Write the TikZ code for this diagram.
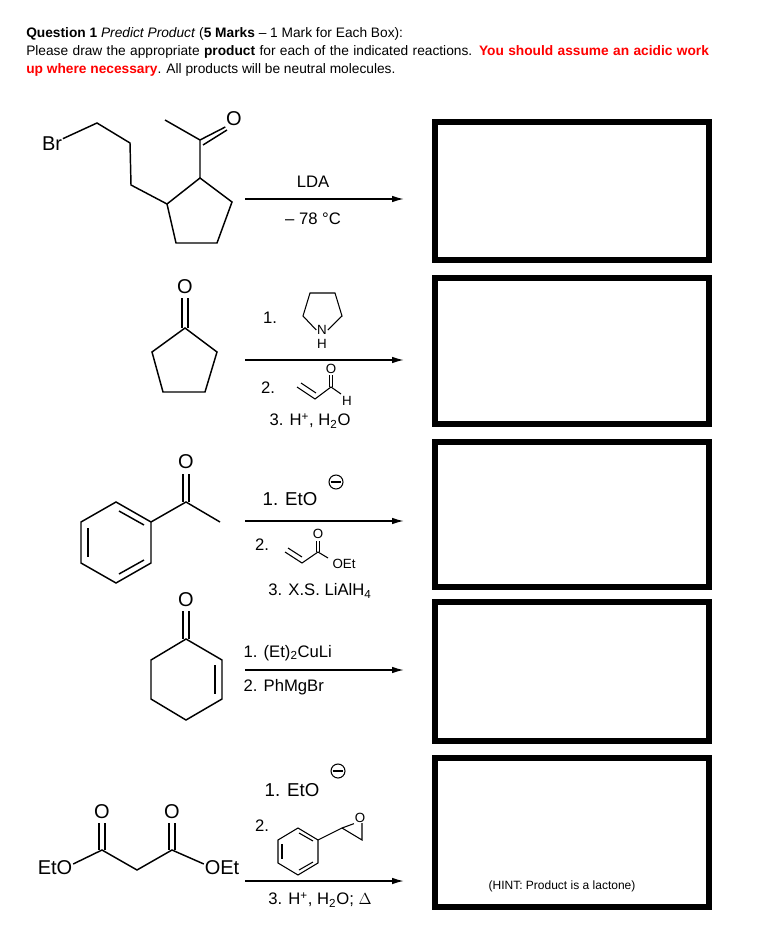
\documentclass[tikz,border=0pt]{standalone}
\usepackage{fontspec}
\setmainfont{Liberation Sans}
\usetikzlibrary{arrows.meta}
\begin{document}
\begin{tikzpicture}[x=0.75pt,y=-0.75pt,
  bd/.style={line width=1.1pt,line join=miter},
  atm/.style={inner sep=0.5pt,font=\fontsize{15}{15}\selectfont},
  rg/.style={inner sep=1pt,font=\fontsize{12.5}{14}\selectfont},
  sm/.style={inner sep=0.5pt,font=\fontsize{10}{10}\selectfont},
  arr/.style={line width=1.2pt,-{Latex[length=9pt,width=5pt]}},
  box/.style={draw,line width=4.5pt,minimum width=206pt},
  minus/.style={circle,draw,line width=0.8pt,minimum size=10.5pt,inner sep=0}]
\useasboundingbox (0,0) rectangle (756,948);
% header
\node[anchor=north west,inner sep=0,text width=512pt,align=justify,font=\fontsize{10.3}{13.5}\selectfont] (hdr) at (26,27)
 {\textbf{Question 1} \textit{Predict Product} (\textbf{5 Marks} -- 1 Mark for Each Box):\\
 Please draw the appropriate \textbf{product} for each of the indicated reactions. \textcolor{red}{\textbf{You should assume an acidic work up where necessary}}. All products will be neutral molecules.};
% boxes
\node[box,minimum height=103.5pt] (b1) at (572,191) {};
\node[box,minimum height=108.75pt] (b2) at (572,351) {};
\node[box,minimum height=108.75pt] (b3) at (572,514) {};
\node[box,minimum height=104.25pt] (b4) at (572,671) {};
\node[box,minimum height=111.75pt] (b5) at (572,832) {};
\node[sm,font=\fontsize{9}{9}\selectfont] (hint) at (562,886) {(HINT: Product is a lactone)};

% ---- molecule 1
\node[atm] (br) at (52,144) {Br};
\node[atm] (o1) at (234,119) {O};
\draw[bd] ([yshift=4pt]br.east) -- (97,123) -- (130,143) -- (131,185) -- (167,204);
\draw[bd] (167,204) -- (200,178) -- (232,202) -- (217,243) -- (176,243) -- cycle;
\draw[bd] (200,178) -- (200,140) -- (165,120);
\draw[bd] (200,140) -- (o1.south west);
\draw[bd] (203,145) -- (227,130);
\coordinate (a1s) at (245,199); \coordinate (a1e) at (404,199);
\draw[arr] (a1s) -- (a1e);
\node[rg] (lda) at (313,182) {LDA};
\node[rg] (t78) at (313,219) {-- 78 °C};

% ---- molecule 2
\node[atm] (o2) at (185,287) {O};
\draw[bd] (182,298) -- (182,328); \draw[bd] (188,298) -- (188,328);
\draw[bd] (185,328) -- (217,352) -- (205,392) -- (163,392) -- (152,352) -- cycle;
\coordinate (a2s) at (245,360); \coordinate (a2e) at (404,360);
\draw[arr] (a2s) -- (a2e);
\node[rg] (s21) at (270,318) {1.};
\node[sm] (n2) at (322,330) {N};
\node[sm] (h2) at (322,344) {H};
\draw[bd,line width=0.8pt] (n2.west) -- (303,316) -- (310,293) -- (335,293) -- (342,316) -- (n2.east);
\node[rg] (s22) at (268,388) {2.};
\draw[bd,line width=0.8pt] (297,387) -- (315,399) -- (331,387) -- (341,394);
\draw[line width=0.8pt] (301,383) -- (316,393);
\draw[line width=0.8pt] (329.5,387) -- (329.5,375); \draw[line width=0.8pt] (332.5,387) -- (332.5,375);
\node[sm] (o2b) at (331,369) {O};
\node[sm] (h2b) at (347,401) {H};
\node[rg] (s23) at (310,421) {3. H\textsuperscript{+}, H\textsubscript{2}O};

% ---- molecule 3
\node[atm] (o3) at (186,462) {O};
\draw[bd] (116,502) -- (151,522) -- (151,563) -- (116,583) -- (81,563) -- (81,522) -- cycle;
\draw[bd] (119,511) -- (144,525); \draw[bd] (144,560) -- (119,574); \draw[bd] (88,528) -- (88,557);
\draw[bd] (151,522) -- (186,502) -- (220,522);
\draw[bd] (183,474) -- (183,502); \draw[bd] (189,474) -- (189,502);
\coordinate (a3s) at (245,521); \coordinate (a3e) at (404,521);
\draw[arr] (a3s) -- (a3e);
\node[rg,font=\fontsize{14}{14}\selectfont] (s31) at (290,499) {1. EtO};
\node[minus] (m3) at (336,482) {};
\draw[line width=0.8pt] ([xshift=-4pt]m3.center) -- ([xshift=4pt]m3.center);
\node[rg] (s32) at (262,545) {2.};
\draw[line width=0.8pt] (285,552) -- (302,563) -- (318,552) -- (328,558);
\draw[line width=0.8pt] (288,548) -- (302,557);
\draw[line width=0.8pt] (316.5,552) -- (316.5,541); \draw[line width=0.8pt] (319.5,552) -- (319.5,541);
\node[sm] (o3b) at (318,534) {O};
\node[sm] (oet3) at (344,564) {OEt};
\node[rg] (s33) at (320,591) {3. X.S. LiAlH\textsubscript{4}};

% ---- molecule 4
\node[atm] (o4) at (186,600) {O};
\draw[bd] (183,611) -- (183,639); \draw[bd] (189,611) -- (189,639);
\draw[bd] (186,639) -- (222,660) -- (222,699) -- (186,720) -- (151,699) -- (151,660) -- cycle;
\draw[bd] (215,665) -- (215,694);
\coordinate (a4s) at (245,670); \coordinate (a4e) at (404,670);
\draw[arr] (a4s) -- (a4e);
\node[rg,anchor=west] (s41) at (242,653) {1. (Et)\textsubscript{2}CuLi};
\node[rg,anchor=west] (s42) at (242,687) {2. PhMgBr};

% ---- molecule 5
\node[atm] (eto) at (55,868) {EtO};
\node[atm] (oet) at (222,868) {OEt};
\node[atm] (o5a) at (102,812) {O};
\node[atm] (o5b) at (172,812) {O};
\draw[bd] ([yshift=3pt]eto.east) -- (102,850) -- (137,870) -- (172,850) -- ([yshift=3pt]oet.west);
\draw[bd] (99,823) -- (99,850); \draw[bd] (105,823) -- (105,850);
\draw[bd] (169,823) -- (169,850); \draw[bd] (175,823) -- (175,850);
\coordinate (a5s) at (245,881); \coordinate (a5e) at (404,881);
\draw[arr] (a5s) -- (a5e);
\node[rg,font=\fontsize{14}{14}\selectfont] (s51) at (292,790) {1. EtO};
\node[minus] (m5) at (338,771) {};
\draw[line width=0.8pt] ([xshift=-4pt]m5.center) -- ([xshift=4pt]m5.center);
\node[rg] (s52) at (262,826) {2.};
\draw[line width=0.8pt] (298,828) -- (318,840) -- (318,863) -- (298,875) -- (278,863) -- (278,840) -- cycle;
\draw[line width=0.8pt] (299,833) -- (313,841); \draw[line width=0.8pt] (313,862) -- (299,870); \draw[line width=0.8pt] (282,844) -- (282,859);
\node[sm] (o5e) at (360,818) {O};
\draw[line width=0.8pt] (318,840) -- (342,828) -- (362,840) -- (362,823);
\draw[line width=0.8pt] (342,828) -- (o5e.south west);
\node[rg] (s53) at (320,900) {3. H\textsuperscript{+}, H\textsubscript{2}O; $\Delta$};
\end{tikzpicture}
\end{document}
